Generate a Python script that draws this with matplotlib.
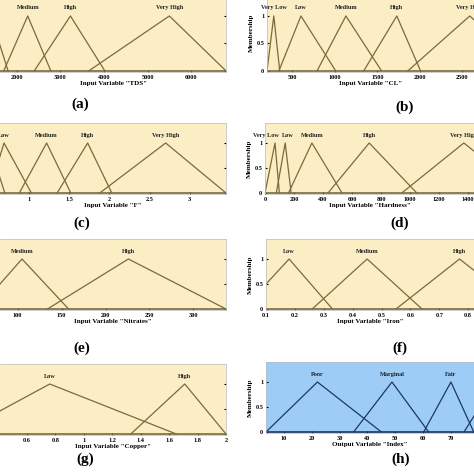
import matplotlib
matplotlib.use("Agg")
import matplotlib.pyplot as plt

plt.rcParams['font.family'] = ['Liberation Serif', 'DejaVu Serif']
plt.rcParams['font.weight'] = 'bold'

# ---- data: membership functions (triangles: start, peak, end) ----
tds_names = ["Low", "Medium", "High", "Very High"]
tds_mfs = [[1000, 1400, 1800], [1700, 2250, 2780], [2400, 3230, 4020], [3650, 5500, 6800]]
cl_names = ["Very Low", "Low", "Medium", "High", "Very High"]
cl_mfs = [[200, 280, 350], [340, 600, 1010], [790, 1130, 1550], [1340, 1730, 2010], [1860, 2590, 3300]]
f_names = ["Very Low", "Low", "Medium", "High", "Very High"]
f_mfs = [[0.3, 0.5, 0.7], [0.5, 0.69, 1.03], [0.88, 1.22, 1.52], [1.35, 1.73, 2.03], [1.88, 2.7, 3.45]]
hard_names = ["Very Low", "Low", "Medium", "High", "Very High"]
hard_mfs = [[0, 69, 99], [78, 139, 180], [162, 323, 531], [434, 718, 1046], [942, 1370, 1800]]
nit_names = ["Medium", "High"]
nit_mfs = [[55, 105, 158], [134, 226, 337]]
iron_names = ["Low", "Medium", "High"]
iron_mfs = [[0.02, 0.18, 0.33], [0.26, 0.45, 0.64], [0.55, 0.77, 0.99]]
cu_names = ["Low", "High"]
cu_mfs = [[0.11, 0.76, 1.65], [1.33, 1.71, 2.0]]
idx_names = ["Poor", "Marginal", "Fair", "Good"]
idx_mfs = [[3.5, 22, 45], [35, 48.8, 62], [60.2, 70, 78.2], [74.7, 86, 97]]

panels = [
    ("a", tds_names, tds_mfs, 'Input Variable "TDS"', (0, -6, 226, 72), (1614, 6800), [2000, 3000, 4000, 5000, 6000], (80, 104), "L"),
    ("b", cl_names, cl_mfs, 'Input Variable "CL"', (267, -6, 474, 72), (200, 2640), [500, 1000, 1500, 2000, 2500], (405, 107), "R"),
    ("c", f_names, f_mfs, 'Input Variable "F"', (0, 123, 226, 194), (0.64, 3.45), [1, 1.5, 2, 2.5, 3], (82, 223), "L"),
    ("d", hard_names, hard_mfs, 'Input Variable "Hardness"', (265, 123, 474, 194), (0, 1440), [0, 200, 400, 600, 800, 1000, 1200, 1400], (400, 223), "R"),
    ("e", nit_names, nit_mfs, 'Input Variable "Nitrates"', (0, 239, 226, 310), (80, 337), [100, 150, 200, 250, 300], (82, 348), "L"),
    ("f", iron_names, iron_mfs, 'Input Variable "Iron"', (266, 239, 474, 310), (0.1, 0.82), [0.1, 0.2, 0.3, 0.4, 0.5, 0.6, 0.7, 0.8], (400, 348), "R"),
    ("g", cu_names, cu_mfs, 'Input Variable "Copper"', (0, 364, 226, 435), (0.41, 2.0), [0.6, 0.8, 1, 1.2, 1.4, 1.6, 1.8, 2], (85, 459), "L"),
    ("h", idx_names, idx_mfs, 'Output Variable "Index"', (266, 362, 474, 433), (3.5, 78.3), [10, 20, 30, 40, 50, 60, 70], (401, 459), "R"),
]

W = 474
fig = plt.figure(figsize=(4.74, 4.74), dpi=100)
fig.patch.set_facecolor("white")

for key, names, mfs, xlabel, (l, t, r, b), xlim, xticks, (lx, ly), side in panels:
    ax = fig.add_axes([l / W, 1 - b / W, (r - l) / W, (b - t) / W])
    blue = key == "h"
    ax.set_facecolor("#9dccf7" if blue else "#fbeec4")
    lc = "#1f3766" if blue else "#7b6a3e"
    for i, (nm, (a0, p, a1)) in enumerate(zip(names, mfs)):
        ax.plot([a0, p, a1], [0, 1, 0], color=lc, lw=0.9)
        if xlim[0] <= p <= xlim[1] * 1.02:
            ha = "center"
            if key == "d" and i == 0:
                ha = "right"
                p = p + 25
            if key == "d" and i == 1:
                ha = "left"
                p = p - 25
            ax.text(p, 1.1, nm, ha=ha, va="bottom", fontsize=4.5, fontweight="bold", color="#222222")
    ax.plot(xlim, [0, 0], color=lc, lw=1.2)
    ax.set_xlim(*xlim)
    ax.set_ylim(-0.02, 1.4)
    ax.set_xticks(xticks)
    ax.set_xticklabels([("%g" % v) for v in xticks], fontsize=4.5, fontweight="bold")
    ax.tick_params(axis="x", length=1.5, pad=2, direction="in")
    ax.set_xlabel(xlabel, fontsize=5, fontweight="bold", labelpad=1)
    for s in ax.spines.values():
        s.set_color("#bbbbbb")
        s.set_linewidth(0.5)
    if side == "L":
        ax.spines["left"].set_visible(False)
        ax.yaxis.tick_right()
        ax.set_yticks([0, 0.5, 1])
        ax.set_yticklabels([])
        ax.tick_params(axis="y", length=1.5, direction="in")
    else:
        ax.spines["right"].set_visible(False)
        ax.set_yticks([0, 0.5, 1])
        ax.set_yticklabels(["0", "0.5", "1"], fontsize=4.5, fontweight="bold")
        ax.tick_params(axis="y", length=1.5, pad=2, direction="in")
        ax.set_ylabel("Membership", fontsize=5, fontweight="bold", labelpad=2)
    fig.text(lx / W, 1 - ly / W, "(%s)" % key, ha="center", va="center", fontsize=11, fontweight="bold")

fig.savefig("out.png", dpi=100)
